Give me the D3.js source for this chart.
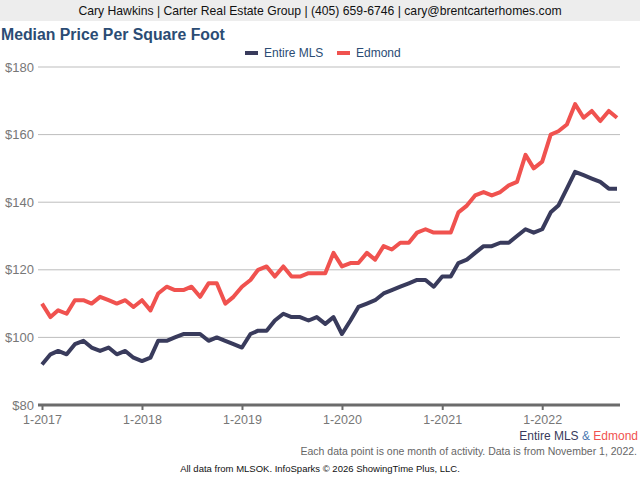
<!DOCTYPE html>
<html>
<head>
<meta charset="utf-8">
<script src="https://cdn.jsdelivr.net/npm/d3@7"></script>
<style>
  body { margin: 0; background: #fff; font-family: "Liberation Sans", Arial, sans-serif; }
  svg { display: block; }
</style>
</head>
<body>
<div id="chart"></div>
<script>
/** data: monthly, Jan 2017 .. Oct 2022 **/
var startMonth = new Date(2017, 0, 1);
var entireMLS = [
  92, 95, 96, 95, 98, 99, 97, 96, 97, 95, 96, 94,
  93, 94, 99, 99, 100, 101, 101, 101, 99, 100, 99, 98,
  97, 101, 102, 102, 105, 107, 106, 106, 105, 106, 104, 106,
  101, 105, 109, 110, 111, 113, 114, 115, 116, 117, 117, 115,
  118, 118, 122, 123, 125, 127, 127, 128, 128, 130, 132, 131,
  132, 137, 139, 144, 149, 148, 147, 146, 144, 144
];
var edmond = [
  110, 106, 108, 107, 111, 111, 110, 112, 111, 110, 111, 109,
  111, 108, 113, 115, 114, 114, 115, 112, 116, 116, 110, 112,
  115, 117, 120, 121, 118, 121, 118, 118, 119, 119, 119, 125,
  121, 122, 122, 125, 123, 127, 126, 128, 128, 131, 132, 131,
  131, 131, 137, 139, 142, 143, 142, 143, 145, 146, 154, 150,
  152, 160, 161, 163, 169, 165, 167, 164, 167, 165
];
var seriesNames = ["Entire MLS", "Edmond"];
var seriesColors = ["#393b5c", "#f0524f"];
var yTicks = [80, 100, 120, 140, 160, 180];
var xTickYears = [2017, 2018, 2019, 2020, 2021, 2022];

var width = 640, height = 480;
var svg = d3.select("#chart").append("svg")
    .attr("width", width)
    .attr("height", height);

/** header bar **/
svg.append("rect")
    .attr("x", 0).attr("y", 0)
    .attr("width", width).attr("height", 21)
    .style("fill", "#ededed");
svg.append("text")
    .attr("x", 320).attr("y", 15)
    .attr("text-anchor", "middle")
    .style("font-size", "12.2px")
    .style("fill", "#111")
    .text("Cary Hawkins | Carter Real Estate Group | (405) 659-6746 | cary@brentcarterhomes.com");

/** title **/
svg.append("text")
    .attr("x", 1).attr("y", 40)
    .style("font-size", "15.8px")
    .style("font-weight", "bold")
    .style("fill", "#2b4c74")
    .text("Median Price Per Square Foot");

/** scales **/
var x = d3.scaleTime()
    .domain([startMonth, new Date(2022, 9, 1)])
    .range([42, 617]);
var y = d3.scaleLinear()
    .domain([80, 180])
    .range([405, 67]);

function monthDate(i) {
    return new Date(2017, i, 1);
}

/** gridlines **/
svg.append("g").selectAll("line")
    .data(yTicks.slice(1))
    .enter().append("line")
    .attr("x1", 38).attr("x2", 620)
    .attr("y1", function(d) { return y(d); })
    .attr("y2", function(d) { return y(d); })
    .style("stroke", "#bdbdbd")
    .style("stroke-width", 1);

/** y labels **/
svg.append("g").selectAll("text")
    .data(yTicks)
    .enter().append("text")
    .attr("x", 34)
    .attr("y", function(d) { return y(d) + 4.5; })
    .attr("text-anchor", "end")
    .style("font-size", "13px")
    .style("fill", "#777")
    .text(function(d) { return "$" + d; });

/** x axis **/
var xAxis = d3.axisBottom(x)
    .tickValues(xTickYears.map(function(yr) { return new Date(yr, 0, 1); }))
    .tickFormat(function(d) { return "1-" + d.getFullYear(); })
    .tickSizeInner(5)
    .tickSizeOuter(0)
    .tickPadding(5);
var gx = svg.append("g")
    .attr("transform", "translate(0,405)")
    .call(xAxis);
gx.select(".domain").remove();
gx.insert("line", ":first-child")
    .attr("x1", 38).attr("x2", 620)
    .attr("y1", 0).attr("y2", 0)
    .style("stroke", "#6b6b6b")
    .style("stroke-width", 3);
gx.selectAll(".tick line")
    .style("stroke", "#6b6b6b")
    .style("stroke-width", 2);
gx.selectAll(".tick text")
    .style("font-size", "12.5px")
    .style("font-family", "Liberation Sans, Arial, sans-serif")
    .style("fill", "#777");

/** lines **/
var line = d3.line()
    .x(function(d, i) { return x(monthDate(i)); })
    .y(function(d) { return y(d); });

[entireMLS, edmond].forEach(function(s, k) {
    svg.append("path")
        .datum(s)
        .attr("d", line)
        .style("fill", "none")
        .style("stroke", seriesColors[k])
        .style("stroke-width", 4)
        .style("stroke-linejoin", "round");
});

/** legend **/
var legendX = [245, 337];
seriesNames.forEach(function(name, k) {
    svg.append("rect")
        .attr("x", legendX[k]).attr("y", 51)
        .attr("width", 13).attr("height", 4)
        .style("fill", seriesColors[k]);
    svg.append("text")
        .attr("x", legendX[k] + 19).attr("y", 57)
        .style("font-size", "12px")
        .style("fill", "#2b4c74")
        .text(name);
});

/** footer **/
var foot = svg.append("text")
    .attr("x", 638).attr("y", 440)
    .attr("text-anchor", "end")
    .style("font-size", "12px");
foot.append("tspan").style("fill", seriesColors[0]).text("Entire MLS");
foot.append("tspan").style("fill", "#4a78b0").text(" & ");
foot.append("tspan").style("fill", seriesColors[1]).text("Edmond");

svg.append("text")
    .attr("x", 637).attr("y", 455)
    .attr("text-anchor", "end")
    .style("font-size", "10.5px")
    .style("fill", "#666")
    .text("Each data point is one month of activity. Data is from November 1, 2022.");

svg.append("text")
    .attr("x", 320).attr("y", 472)
    .attr("text-anchor", "middle")
    .style("font-size", "9.5px")
    .style("fill", "#111")
    .text("All data from MLSOK. InfoSparks \u00a9 2026 ShowingTime Plus, LLC.");
</script>
</body>
</html>
